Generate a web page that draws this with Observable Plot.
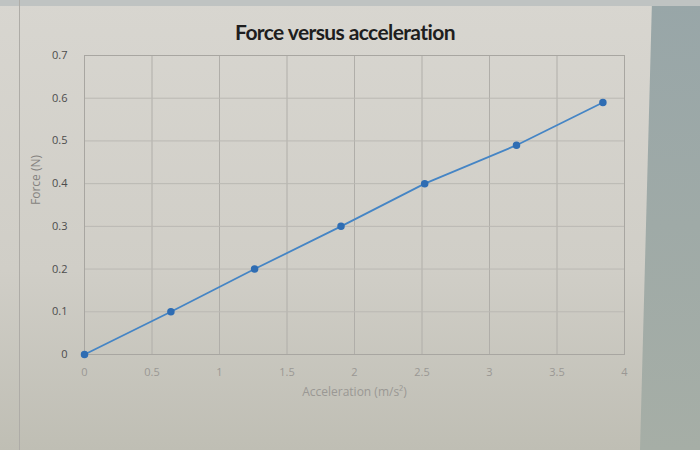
<!DOCTYPE html>
<html>
<head>
<meta charset="utf-8">
<script src="https://cdn.jsdelivr.net/npm/d3@7"></script>
<script src="https://cdn.jsdelivr.net/npm/@observablehq/plot@0.6"></script>
<style>
  html, body { margin: 0; padding: 0; }
  body { width: 700px; height: 450px; background: linear-gradient(#d8d6d0, #d0cec7 60%, #bfbeb4); position: relative; overflow: hidden; font-family: "Open Sans", sans-serif; }
  #strip { position: absolute; left: 0; top: 0; width: 700px; height: 450px; background: linear-gradient(#98a6a8, #a6aea6);
           clip-path: polygon(652px 0, 700px 0, 700px 450px, 640px 450px); }
  #topband { position: absolute; left: 0; top: 0; width: 700px; height: 6px; background: #bfc3c2; }
  #title { position: absolute; left: 0; top: 0; width: 690px; height: 44px; text-align: center;
           font-family: Lato, sans-serif; font-weight: bold; font-size: 21px; color: #1e1e1e;
           line-height: 44px; padding-top: 10px; box-sizing: border-box; letter-spacing: -0.6px; }
  #chart { position: absolute; left: 0; top: 44px; }
  #edge { position: absolute; left: 19px; top: 0; width: 1px; height: 450px; background: #aeaca7; }
</style>
</head>
<body>
<div id="strip"></div>
<div id="topband"></div>
<div id="edge"></div>
<div id="title">Force versus acceleration</div>
<div id="chart"></div>
<script>
// Data
const acceleration = [0, 0.64, 1.26, 1.9, 2.52, 3.2, 3.84];   // m/s²
const force = [0, 0.1, 0.2, 0.3, 0.4, 0.49, 0.59];             // N
const xTicks = [0, 0.5, 1, 1.5, 2, 2.5, 3, 3.5, 4];
const yTicks = [0, 0.1, 0.2, 0.3, 0.4, 0.5, 0.6, 0.7];
const xTitle = "Acceleration (m/s²)";
const yTitle = "Force (N)";

const rows = acceleration.map((a, i) => ({a, f: force[i]}));

const chart = Plot.plot({
  width: 700,
  height: 406,
  marginLeft: 84,
  marginRight: 76,
  marginTop: 11,
  marginBottom: 96,
  style: {background: "transparent", fontFamily: "Open Sans, sans-serif"},
  x: {domain: [0, 4]},
  y: {domain: [0, 0.7]},
  marks: [
    Plot.gridX(xTicks, {stroke: "#b0aea9", strokeOpacity: 1, strokeWidth: 1}),
    Plot.gridY(yTicks, {stroke: "#bab8b3", strokeOpacity: 1, strokeWidth: 1}),
    Plot.frame({stroke: "#a8a6a1"}),
    Plot.axisY(yTicks, {tickSize: 0, tickPadding: 17, label: null, fill: "#4c4c4c", fontSize: 11,
      tickFormat: d => String(d)}),
    Plot.axisX(xTicks, {tickSize: 0, tickPadding: 14, label: null, fill: "#9a9894", fontSize: 11,
      tickFormat: d => String(d)}),
    Plot.text([xTitle], {frameAnchor: "bottom", dy: 41, fill: "#9a9894", fontSize: 12}),
    Plot.text([yTitle], {frameAnchor: "left", dx: -48, rotate: -90, fill: "#858380", fontSize: 12}),
    Plot.line(rows, {x: "a", y: "f", stroke: "#4585c5", strokeWidth: 1.8}),
    Plot.dot(rows, {x: "a", y: "f", r: 3, fill: "#2f6db3", stroke: "#2f6db3"})
  ]
});
document.getElementById("chart").appendChild(chart);
</script>
</body>
</html>
